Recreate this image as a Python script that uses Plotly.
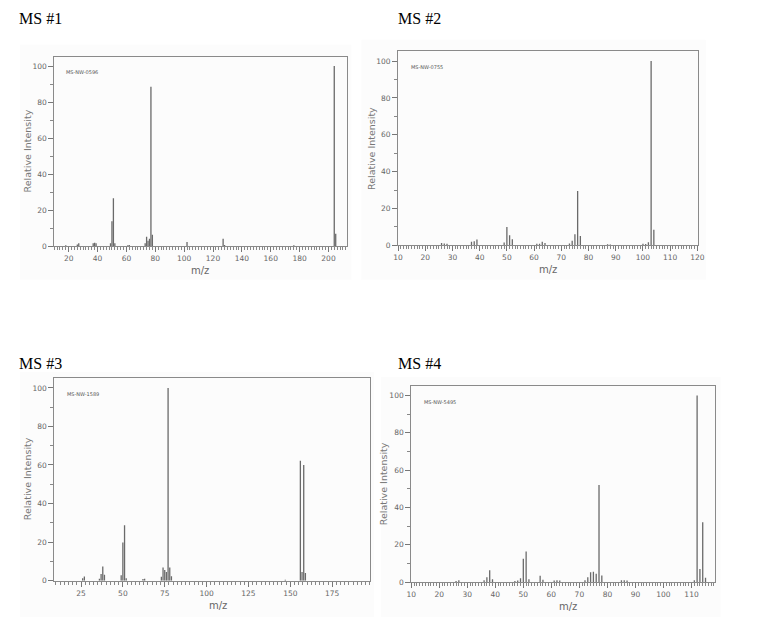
import plotly.graph_objects as go

# ---------------- data ----------------
titles = ["MS #1", "MS #2", "MS #3", "MS #4"]
codes = ["MS-NW-0596", "MS-NW-0755", "MS-NW-1589", "MS-NW-5495"]

ms1_mz = [18, 26, 27, 37, 38, 39, 49, 50, 51, 52, 61, 62, 73, 74, 75, 76, 77, 78, 102, 127, 128, 176, 204, 205]
ms1_int = [0.5, 0.8, 1.5, 1.5, 1.8, 1.5, 1.5, 13.8, 26.6, 1.5, 0.5, 0.6, 1.5, 5.2, 3.0, 4.0, 88.5, 6.2, 2.2, 4.0, 0.6, 0.5, 100, 6.8]

ms2_mz = [26, 27, 28, 37, 38, 39, 49, 50, 51, 52, 61, 62, 63, 64, 73, 74, 75, 76, 77, 87, 88, 100, 101, 102, 103, 104]
ms2_int = [1.2, 1.0, 0.8, 2.0, 2.2, 3.2, 1.5, 10.0, 5.5, 3.3, 0.8, 0.8, 2.0, 1.2, 1.0, 2.5, 6.0, 29.5, 5.0, 0.6, 0.5, 0.8, 0.7, 1.7, 100, 8.4]

ms3_mz = [26, 27, 36, 37, 38, 39, 49, 50, 51, 52, 62, 63, 73, 74, 75, 76, 77, 78, 79, 147, 156, 157, 158, 159]
ms3_int = [1.2, 2.2, 1.0, 3.5, 7.3, 3.0, 2.8, 19.8, 28.7, 1.2, 0.8, 1.0, 2.0, 6.8, 5.5, 4.5, 100, 6.8, 2.3, 0.5, 62.2, 4.5, 60.0, 4.0]

ms4_mz = [26, 27, 36, 37, 38, 39, 47, 48, 49, 50, 51, 52, 56, 57, 61, 62, 63, 72, 73, 74, 75, 76, 77, 78, 85, 86, 87, 111, 112, 113, 114, 115]
ms4_int = [0.5, 1.0, 1.0, 2.5, 6.3, 1.5, 0.6, 0.8, 2.0, 12.5, 16.3, 1.5, 3.4, 1.2, 0.8, 1.0, 0.8, 1.0, 2.5, 5.3, 5.5, 4.5, 52.0, 3.5, 1.0, 1.0, 0.8, 1.0, 100, 7.0, 32.0, 2.3]

spectra = [(ms1_mz, ms1_int), (ms2_mz, ms2_int), (ms3_mz, ms3_int), (ms4_mz, ms4_int)]

x_ranges = [[10, 212.5], [10, 120.3], [9, 197.5], [10, 118.5]]
x_dticks = [20, 10, 25, 10]
x_minor = [2, 1, 2.5, 1]
y_range = [0, 105.3]

# ---------------- layout geometry (pixels) ----------------
W, H = 762, 627
boxes = [  # plot frame: x0, x1, ytop, ybottom
    (50, 347, 57, 248),
    (399.3, 704.3, 51.7, 247.3),
    (50, 370.7, 380.7, 585.3),
    (412.7, 721.7, 388.7, 586.7),
]
title_pos = [(12, 18.5), (397.5, 18.5), (12, 366), (397, 366.5)]
code_pos = [(60, 72.7), (410, 67.7), (61, 397), (423.5, 405)]
ylab_x = [22.5, 372.5, 22.5, 384.5]
xlab_pos = [(198, 273), (551.5, 271.5), (216.5, 610), (571.5, 611.5)]
bg_boxes = [(15, 352, 45, 282), (362, 712, 40, 282), (15, 375, 375, 622), (382, 727, 380, 622)]

def px(x):
    return x / W

def py(y):
    return 1 - y / H

fig = go.Figure()
annotations = []
shapes = []

tick_font = dict(family="DejaVu Sans, Arial, sans-serif", size=7.5, color="#666")

for i, ((mz, inten), (x0, x1, yt, yb)) in enumerate(zip(spectra, boxes)):
    n = i + 1
    xs, ys = [], []
    for m, v in zip(mz, inten):
        xs += [m, m, None]
        ys += [0, v, None]
    fig.add_trace(go.Scatter(
        x=xs, y=ys, mode="lines",
        line=dict(color="#6a6a6a", width=1.3),
        xaxis="x" if n == 1 else f"x{n}",
        yaxis="y" if n == 1 else f"y{n}",
        showlegend=False, hoverinfo="skip",
    ))
    xa = dict(
        domain=[px(x0), px(x1)], range=x_ranges[i], anchor="y" if n == 1 else f"y{n}",
        showgrid=False, zeroline=False, showline=True, linecolor="#8a8a8a", linewidth=1,
        mirror=True, ticks="outside", ticklen=5, tickcolor="#777", tickwidth=1,
        tickmode="linear", tick0=0, dtick=x_dticks[i], tickfont=tick_font,
        minor=dict(ticks="outside", ticklen=3, tickcolor="#888", dtick=x_minor[i], tick0=0, showgrid=False),
        fixedrange=True,
    )
    ya = dict(
        domain=[py(yb), py(yt)], range=y_range, anchor="x" if n == 1 else f"x{n}",
        showgrid=False, zeroline=False, showline=True, linecolor="#8a8a8a", linewidth=1,
        mirror=True, ticks="outside", ticklen=5, tickcolor="#777", tickwidth=1,
        tickmode="linear", tick0=0, dtick=20, tickfont=tick_font,
        minor=dict(ticks="outside", ticklen=3, tickcolor="#888", dtick=10, tick0=0, showgrid=False),
        fixedrange=True,
    )
    fig.layout["xaxis" if n == 1 else f"xaxis{n}"] = xa
    fig.layout["yaxis" if n == 1 else f"yaxis{n}"] = ya

    bx0, bx1, by0, by1 = bg_boxes[i]
    shapes.append(dict(type="rect", xref="paper", yref="paper", x0=px(bx0), x1=px(bx1),
                       y0=py(by1), y1=py(by0), fillcolor="#fcfcfc", line=dict(width=0), layer="below"))

    tx, ty = title_pos[i]
    annotations.append(dict(text=titles[i], x=px(tx), y=py(ty), xref="paper", yref="paper",
                            xanchor="left", yanchor="middle", showarrow=False,
                            font=dict(family="Liberation Serif, DejaVu Serif, serif", size=16, color="#000")))
    cx, cy = code_pos[i]
    annotations.append(dict(text=codes[i], x=px(cx), y=py(cy), xref="paper", yref="paper",
                            xanchor="left", yanchor="middle", showarrow=False,
                            font=dict(family="DejaVu Sans, sans-serif", size=5, color="#555")))
    annotations.append(dict(text="Relative Intensity", x=px(ylab_x[i]), y=py((yt + yb) / 2),
                            xref="paper", yref="paper", xanchor="center", yanchor="middle",
                            textangle=-90, showarrow=False,
                            font=dict(family="DejaVu Sans, Arial, sans-serif", size=9.5, color="#777")))
    lx, ly = xlab_pos[i]
    annotations.append(dict(text="m/z", x=px(lx), y=py(ly), xref="paper", yref="paper",
                            xanchor="center", yanchor="middle", showarrow=False,
                            font=dict(family="DejaVu Sans, Arial, sans-serif", size=10, color="#666")))

fig.update_layout(
    width=W, height=H,
    margin=dict(l=0, r=0, t=0, b=0),
    paper_bgcolor="white", plot_bgcolor="white",
    annotations=annotations, shapes=shapes,
    showlegend=False,
)

fig.write_html("out.html", config={"displayModeBar": False})
